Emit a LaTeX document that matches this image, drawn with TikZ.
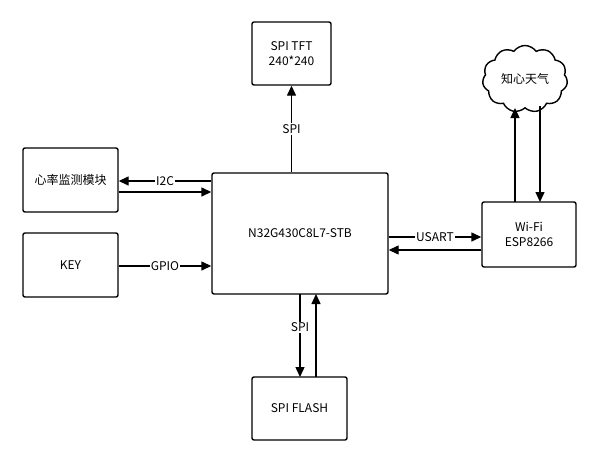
\documentclass[tikz,border=0pt]{standalone}
\usepackage{fontspec}
\setmainfont{Noto Sans CJK SC}
\usetikzlibrary{shapes.symbols,arrows.meta}
\begin{document}
\begin{tikzpicture}[x=1pt,y=-1pt,
  box/.style={draw,line width=1.4pt,rounded corners=2pt,inner sep=0pt,font=\fontsize{12}{15}\selectfont,align=center},
  ar/.style={line width=1.4pt,-{Triangle[length=10pt,width=9pt]}},
  lab/.style={fill=white,inner sep=1pt,font=\fontsize{12}{14}\selectfont}]
\useasboundingbox[fill=white] (0,0) rectangle (600,469);
\node[box,minimum width=79pt,minimum height=63pt] (tft) at (291.5,53.5) {SPI TFT\\240*240};
\node[box,minimum width=176pt,minimum height=121pt] (mcu) at (300,233.5) {N32G430C8L7-STB};
\node[box,minimum width=95pt,minimum height=64pt] (hr) at (70.5,180) {心率监测模块};
\node[box,minimum width=95pt,minimum height=64pt] (key) at (70.5,265) {KEY};
\node[box,minimum width=94pt,minimum height=65pt] (wifi) at (529,234.5) {Wi-Fi\\ESP8266};
\node[box,minimum width=95pt,minimum height=63pt] (fl) at (299.5,408.5) {SPI FLASH};
\node[draw,line width=1.4pt,cloud,cloud puffs=11,cloud puff arc=110,aspect=1.3,minimum width=85pt,minimum height=67pt,inner sep=0pt,font=\fontsize{12}{14}\selectfont] (cl) at (525,79) {知心天气};
% SPI to TFT
\draw[ar] (mcu.north -| tft) -- node[lab]{SPI} (tft.south);
% I2C
\draw[ar] (mcu.west |- 0,181) -- node[lab]{I2C} (hr.east |- 0,181);
\draw[ar] (hr.east |- 0,192) -- (mcu.west |- 0,192);
% GPIO
\draw[ar] (key.east |- 0,266) -- node[lab]{GPIO} (mcu.west |- 0,266);
% USART
\draw[ar] (mcu.east |- 0,237) -- node[lab]{USART} (wifi.west |- 0,237);
\draw[ar] (wifi.west |- 0,250) -- (mcu.east |- 0,250);
% SPI flash
\draw[ar] (300,294) -- node[lab,pos=0.4]{SPI} (300,377);
\draw[ar] (316,377) -- (316,294);
% cloud
\draw[ar] (515,202) -- (515,108);
\draw[ar] (540,106) -- (540,202);
\end{tikzpicture}
\end{document}
